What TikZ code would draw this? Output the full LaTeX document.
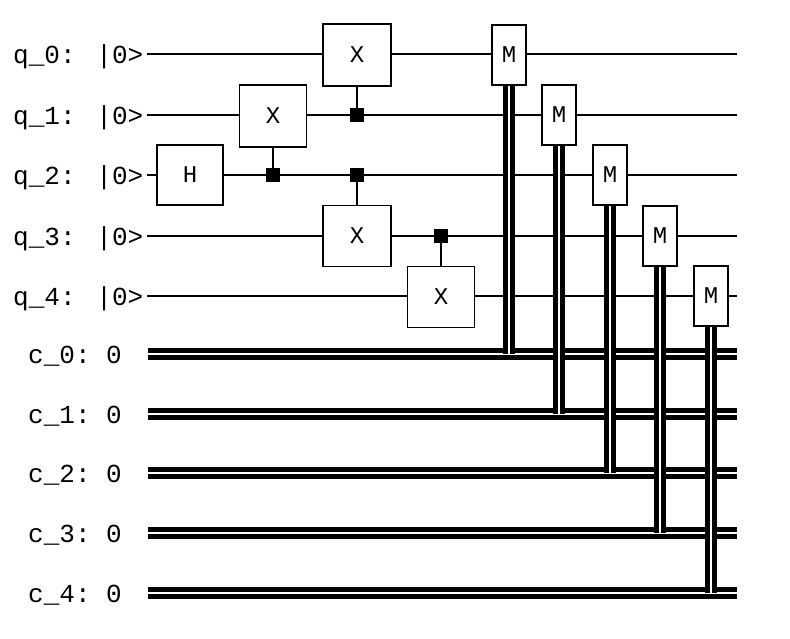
\documentclass[tikz,border=0pt]{standalone}
\usepackage{fontspec}
\setmainfont{Liberation Mono}
\begin{document}
\begin{tikzpicture}[x=1pt,y=-1pt,
  wire/.style={line width=1.6pt},
  cwire/.style={line width=5pt,double=white,double distance=2.4pt},
  gate/.style={draw,line width=1.6pt,fill=white,inner sep=0pt,font=\fontsize{24}{24}\selectfont},
  ctrl/.style={fill=black,inner sep=0pt,minimum size=14pt},
  lbl/.style={anchor=base west,font=\fontsize{26}{26}\selectfont,inner sep=0pt}]
\useasboundingbox (0,0) rectangle (790,638);
% qubit wires
\foreach \i/\y in {0/54,1/115,2/175,3/236,4/296}{
  \node[lbl] at (13,\y+9) {q\_\i: |0>};
  \coordinate (qs\i) at (147,\y);
  \coordinate (qe\i) at (737,\y);
  \draw[wire] (qs\i) -- (qe\i);
}
% classical wires
\foreach \i/\y in {0/354,1/414,2/473,3/533,4/593}{
  \node[lbl] at (28,\y+9) {c\_\i:\ 0};
  \coordinate (cs\i) at (148,\y);
  \coordinate (ce\i) at (737,\y);
  \draw[cwire] (cs\i) -- (ce\i);
}
% gates
\node[gate,minimum width=66pt,minimum height=60pt] (h) at (190,175) {H};
\node[ctrl] (c1) at (273,175) {};
\node[gate,minimum width=67pt,minimum height=62pt] (x1) at (273,116) {X};
\draw[wire] (c1) -- (x1);
\node[ctrl] (c2) at (357,115) {};
\node[ctrl] (c3) at (357,175) {};
\node[gate,minimum width=68pt,minimum height=62pt] (x0) at (357,55) {X};
\draw[wire] (x0) -- (c2);
\node[gate,minimum width=68pt,minimum height=61pt] (x3) at (357,236) {X};
\draw[wire] (c3) -- (x3);
\node[ctrl] (c4) at (441,236) {};
\node[gate,minimum width=67pt,minimum height=61pt] (x4) at (441,297) {X};
\draw[wire] (c4) -- (x4);
% measurements
\foreach \i/\x/\y/\c in {0/509/55/354,1/559/115/414,2/610/175/473,3/660/236/533,4/711/296/593}{
  \coordinate (t\i) at (\x,\c);
  \draw[cwire] (\x,\y) -- (t\i);
  \node[gate,minimum width=34pt,minimum height=60pt] (m\i) at (\x,\y) {M};
}
\end{tikzpicture}
\end{document}
